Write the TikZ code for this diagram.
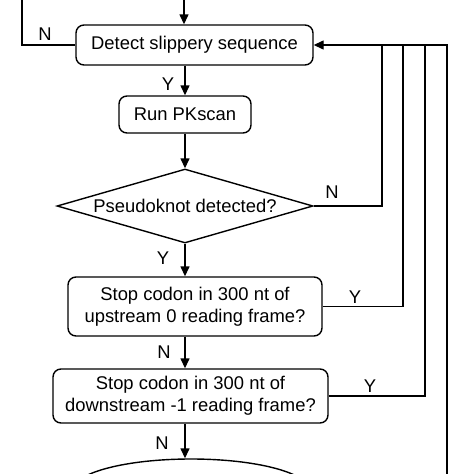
\documentclass[tikz,border=0pt]{standalone}
\usepackage{fontspec}
\setmainfont{Liberation Sans}
\usetikzlibrary{shapes.geometric,arrows.meta}
\begin{document}
\begin{tikzpicture}[x=1pt,y=-1pt,
  every node/.style={font=\fontsize{18.4}{22}\selectfont},
  box/.style={draw,line width=1.4pt,rounded corners=8pt,align=center,inner sep=0pt},
  ln/.style={line width=1.4pt},
  arr/.style={line width=1.4pt,-{Triangle[length=10pt,width=9pt]}},
  lbl/.style={inner sep=0pt}]
\useasboundingbox (0,0) rectangle (474,474);
\node[box,minimum width=237pt,minimum height=40pt] (detect) at (194.5,45) {Detect slippery sequence};
\node[box,minimum width=132pt,minimum height=37pt] (pk) at (185,114.5) {Run PKscan};
\node[draw,line width=1.4pt,diamond,aspect=3.46,inner sep=0pt,minimum width=256pt,minimum height=74pt] (dia) at (185,206) {Pseudoknot detected?};
\node[box,minimum width=254pt,minimum height=59pt] (b2) at (195,306.5) {Stop codon in 300 nt of\\upstream 0 reading frame?};
\node[box,minimum width=275pt,minimum height=54pt] (b3) at (190.5,396) {Stop codon in 300 nt of\\downstream -1 reading frame?};
\node[draw,line width=1.4pt,ellipse,minimum width=236pt,minimum height=62pt,inner sep=0pt] (fin) at (191,490) {};
\coordinate (topin) at (184,0);
\coordinate (lefttop) at (22,0);
\coordinate (r1) at (382,0);
\coordinate (r2) at (403,0);
\coordinate (r3) at (425,0);
\coordinate (r4) at (447,474);
\draw[arr] (topin) -- (topin |- detect.north);
\draw[ln] (lefttop) |- (detect.west);
\draw[arr] (pk.north |- detect.south) -- (pk.north);
\draw[arr] (pk.south) -- (dia.north);
\draw[arr] (dia.south) -- (dia.south |- b2.north);
\draw[arr] (dia.south |- b2.south) -- (dia.south |- b3.north);
\draw[arr] (dia.south |- b3.south) -- (dia.south |- fin.north);
\draw[arr] (r4) |- (detect.east);
\draw[ln] (dia.east) -| (r1 |- detect.east);
\draw[ln] (b2.east) -| (r2 |- detect.east);
\draw[ln] (b3.east) -| (r3 |- detect.east);
\node[lbl] (nA) at (45,34) {N};
\node[lbl] (yA) at (168,84) {Y};
\node[lbl] (nB) at (332,192) {N};
\node[lbl] (yB) at (163,258) {Y};
\node[lbl] (yC) at (355,297) {Y};
\node[lbl] (nC) at (164,352) {N};
\node[lbl] (yD) at (370,386) {Y};
\node[lbl] (nD) at (162,443) {N};
\end{tikzpicture}
\end{document}
